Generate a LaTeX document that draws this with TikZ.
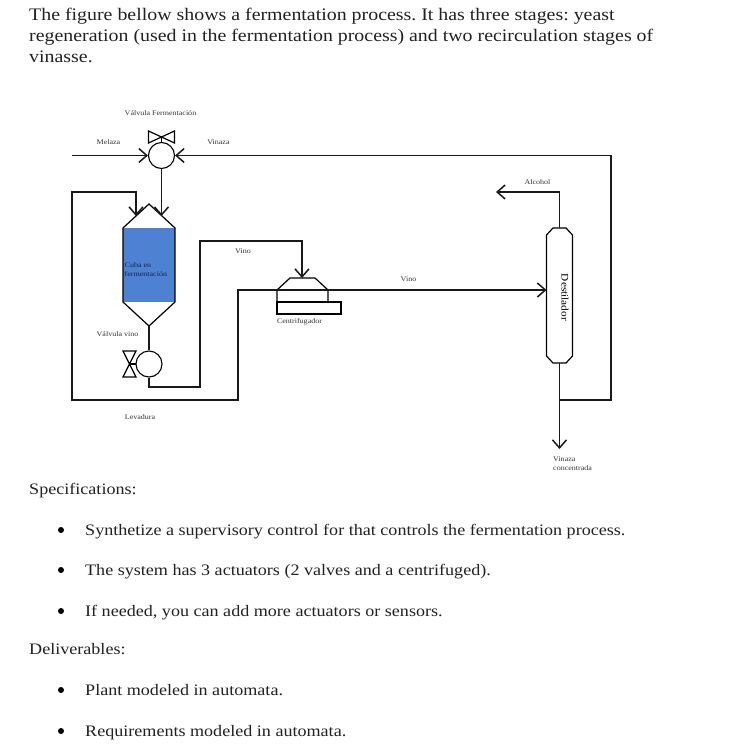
\documentclass[tikz,border=0pt]{standalone}
\usepackage{fontspec}
\setmainfont[FakeStretch=1.13]{Liberation Serif}
\usetikzlibrary{arrows.meta}
\definecolor{tank_blue}{HTML}{4F81D2}
\definecolor{tank_text}{HTML}{10264A}
\definecolor{body_text}{HTML}{222222}
\begin{document}
\frenchspacing
\begin{tikzpicture}[x=1pt,y=-1pt,>={Straight Barb[length=8pt,width=14pt]},
	pipe_style/.style={line width=1.5pt, black!90},
	valve_style/.style={circle, draw=black, line width=1.1pt, fill=white, minimum size=26pt, inner sep=0pt},
	shape_style/.style={line width=1.2pt, black},
	tag_style/.style={font=\fontsize{7.1}{9}\selectfont, inner sep=0pt, text=black!80},
	text_style/.style={font=\fontsize{17.6}{21}\selectfont, anchor=base west, inner sep=0pt, text=body_text},
	item_style/.style={text_style, font=\fontsize{16}{21}\selectfont},
	bullet_style/.style={circle, fill=black, minimum size=6pt, inner sep=0pt}]
	\useasboundingbox (0,0) rectangle (750,750);
	\fill[white] (0,0) rectangle (750,750);
	% body text
	\node[text_style] (intro_1) at (29,20) {The figure bellow shows a fermentation process. It has three stages: yeast};
	\node[text_style] (intro_2) at (29,41) {regeneration (used in the fermentation process) and two recirculation stages of};
	\node[text_style] (intro_3) at (29,62) {vinasse.};
	\node[item_style] (spec) at (29,494) {Specifications:};
	\node[item_style] (deliv) at (29,654) {Deliverables:};
	\foreach \name/\y/\txt in {s1/530/{Synthetize a supervisory control for that controls the fermentation process.},
		s2/570/{The system has 3 actuators (2 valves and a centrifuged).},
		s3/611/{If needed, you can add more actuators or sensors.},
		d1/690/{Plant modeled in automata.},
		d2/731/{Requirements modeled in automata.}}{
		\node[bullet_style] (dot_\name) at (61,\y) {};
		\node[item_style] (item_\name) at (85,\y+5) {\txt};
	}
	% tank
	\coordinate (tank_top) at (149,204);
	\coordinate (tank_nw) at (123,228);
	\coordinate (tank_ne) at (175,228);
	\coordinate (tank_sw) at (123,302);
	\coordinate (tank_se) at (175,302);
	\coordinate (tank_bot) at (149,326);
	\fill[tank_blue] (tank_nw) rectangle (tank_se);
	\draw[shape_style] (tank_top) -- (tank_ne) -- (tank_se) -- (tank_bot) -- (tank_sw) -- (tank_nw) -- cycle;
	% valves
	\draw[shape_style] (148.5,131) -- (174.5,143) -- (174.5,131) -- (148.5,143) -- cycle;
	\draw[shape_style] (123,351) -- (136,351) -- (123,377) -- (136,377) -- cycle;
	\draw[shape_style] (161.5,137) -- (161.5,145);
	\draw[shape_style] (129.5,364) -- (138,364);
	\node[valve_style] (valve_1) at (161.5,155.5) {};
	\node[valve_style] (valve_2) at (149,364) {};
	% centrifuge
	\coordinate (cen_w) at (277,290);
	\coordinate (cen_e) at (328,290);
	\coordinate (cen_in) at (302,278);
	\draw[shape_style] (cen_w) -- (290,278) -- (315,278) -- (cen_e) -- (328,302) (cen_w) -- (277,302);
	\draw[shape_style] (277,302) rectangle (341,314);
	% still
	\coordinate (still_top) at (559.5,228);
	\coordinate (still_bot) at (559.5,363);
	\coordinate (still_w) at (546.5,290);
	\draw[shape_style] (553,228) -- (566,228) -- (572.5,235) -- (572.5,356) -- (566,363) -- (553,363) -- (546.5,356) -- (546.5,235) -- cycle;
	% pipes
	\coordinate (melaza_in) at (72,155.5);
	\coordinate (alcohol_out) at (496,192);
	\coordinate (vinaza_out) at (559.5,449);
	\coordinate (tee) at (559.5,400);
	\coordinate (tank_in) at (136,216);
	\coordinate (feed_in) at (161.5,216);
	\draw[pipe_style,->] (melaza_in) -- (valve_1.west);
	\draw[pipe_style,->] (tee) -- (611,400) -- (611,155.5) -- (valve_1.east);
	\draw[pipe_style,->] (valve_1.south) -- (feed_in);
	\draw[pipe_style,->] (cen_w) -- (238,290) -- (238,400) -- (72,400) -- (72,192) -- (136,192) -- (tank_in);
	\draw[pipe_style] (tank_bot) -- (valve_2.north);
	\draw[pipe_style,->] (valve_2.south) -- (149,387) -- (200,387) -- (200,241) -- (302,241) -- (cen_in);
	\draw[pipe_style] (cen_w) -- (cen_e);
	\draw[pipe_style,->] (cen_e) -- (still_w);
	\draw[pipe_style,->] (still_top) -- (559.5,192) -- (alcohol_out);
	\draw[pipe_style,->] (still_bot) -- (vinaza_out);
	% labels
	\node[tag_style] (lab_valve_1) at (160.5,113.5) {Válvula Fermentación};
	\node[tag_style] (lab_melaza) at (108.5,142) {Melaza};
	\node[tag_style] (lab_vinaza) at (218.5,142) {Vinaza};
	\node[tag_style,text=tank_text,anchor=west,align=left] (lab_tank) at (124.5,269.5) {Cuba en\\fermentación};
	\node[tag_style] (lab_vino_1) at (243,251.5) {Vino};
	\node[tag_style] (lab_cen) at (299.5,321.5) {Centrifugador};
	\node[tag_style] (lab_vino_2) at (408.5,279.5) {Vino};
	\node[tag_style] (lab_alcohol) at (537.5,182.5) {Alcohol};
	\node[tag_style] (lab_valve_2) at (117.5,334.5) {Válvula vino};
	\node[tag_style] (lab_lev) at (140,417.5) {Levadura};
	\node[tag_style,anchor=west,align=left] (lab_conc) at (553,464) {Vinaza\\concentrada};
	\node[font=\fontsize{10}{12}\selectfont,inner sep=0pt,rotate=-90] (lab_still) at (565,297.5) {Destilador};
\end{tikzpicture}
\end{document}
